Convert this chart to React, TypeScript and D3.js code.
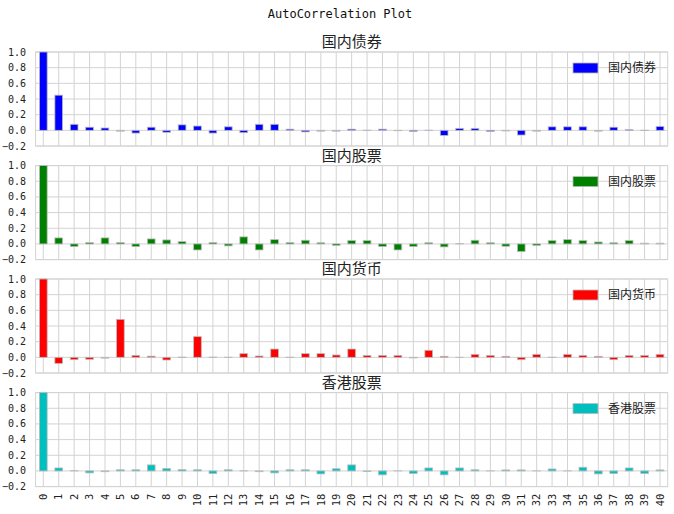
import React from "react";
import * as d3 from "d3";

const lags: number[] = Array.from({ length: 41 }, (_, i) => i);
const yTicks: number[] = [-0.2, 0, 0.2, 0.4, 0.6, 0.8, 1.0];
const seriesNames: string[] = ["国内债券", "国内股票", "国内货币", "香港股票"];
const seriesColors: string[] = ["#0000ff", "#008000", "#ff0000", "#00bfbf"];

const bondAcf: number[] = [
  1.0, 0.449, 0.077, 0.04, 0.03, -0.01, -0.035, 0.04, -0.025, 0.07,
  0.055, -0.035, 0.045, -0.03, 0.077, 0.077, 0.015, -0.02, -0.01, -0.01,
  0.015, 0.002, 0.015, -0.005, -0.015, 0.002, -0.065, 0.025, 0.025, -0.015,
  -0.008, -0.06, -0.01, 0.045, 0.045, 0.045, -0.01, 0.04, 0.008, 0.002, 0.05,
];
const stockAcf: number[] = [
  1.0, 0.077, -0.034, 0.017, 0.077, 0.017, -0.034, 0.064, 0.051, 0.03,
  -0.077, 0.017, -0.025, 0.09, -0.077, 0.055, 0.017, 0.047, 0.015, -0.02,
  0.043, 0.043, -0.034, -0.077, -0.034, 0.015, -0.038, 0.003, 0.047, 0.015,
  -0.03, -0.098, -0.02, 0.043, 0.055, 0.043, 0.025, 0.015, 0.043, 0.01, 0.01,
];
const moneyAcf: number[] = [
  1.0, -0.077, -0.03, -0.025, -0.01, 0.485, 0.025, 0.015, -0.034, 0.003,
  0.264, 0.003, 0.002, 0.047, 0.017, 0.106, 0.002, 0.047, 0.047, 0.03,
  0.106, 0.025, 0.025, 0.025, -0.008, 0.09, 0.013, 0.001, 0.038, 0.025,
  0.013, -0.03, 0.038, 0.002, 0.038, 0.025, 0.013, -0.03, 0.025, 0.025, 0.038,
];
const hkAcf: number[] = [
  1.0, 0.038, 0.003, -0.025, -0.01, 0.015, 0.015, 0.077, 0.03, 0.017,
  0.015, -0.034, 0.015, 0.002, -0.01, -0.025, 0.015, 0.015, -0.038, 0.028,
  0.077, -0.008, -0.05, 0.001, -0.034, 0.038, -0.05, 0.038, 0.015, 0.001,
  0.013, 0.013, 0.001, 0.025, 0.001, 0.047, -0.038, -0.034, 0.038, -0.034, 0.013,
];
const allSeries: number[][] = [bondAcf, stockAcf, moneyAcf, hkAcf];

const W = 674;
const H = 514;
const plotLeft = 35.6;
const plotRight = 667.7;
const panelTops = [52, 165.6, 279, 392.6];
const panelH = 94;
const grid = "#d3d3d3";
const cjk = "'Noto Sans CJK SC', 'Noto Sans', sans-serif";
const mono = "'DejaVu Sans Mono', monospace";

export default function App() {
  const x = d3.scaleLinear().domain([-0.5, 40.5]).range([plotLeft, plotRight]);
  const bw = x(0.25) - x(-0.25);
  return (
    <svg width={W} height={H} style={{ position: "absolute", left: 0, top: 0, background: "#fff" }}>
      <rect x={0} y={0} width={W} height={H} fill="#fff" />
      <text x={340} y={18} textAnchor="middle" fontFamily={mono} fontSize={12} fill="#111">
        AutoCorrelation Plot
      </text>
      {allSeries.map((vals, si) => {
        const top = panelTops[si];
        const y = d3.scaleLinear().domain([-0.2, 1.0]).range([top + panelH, top]);
        const color = seriesColors[si];
        return (
          <g key={si}>
            {yTicks.map((t) => (
              <line key={"h" + t} x1={plotLeft} x2={plotRight} y1={y(t)} y2={y(t)} stroke={grid} strokeWidth={1} />
            ))}
            {lags.map((l) => (
              <line key={"v" + l} x1={x(l)} x2={x(l)} y1={top} y2={top + panelH} stroke={grid} strokeWidth={1} />
            ))}
            <rect x={plotLeft} y={top} width={plotRight - plotLeft} height={panelH} fill="none" stroke={grid} strokeWidth={1} />
            {vals.map((v, i) => (
              <rect
                key={"b" + i}
                x={x(lags[i]) - bw / 2}
                y={Math.min(y(v), y(0))}
                width={bw}
                height={Math.abs(y(v) - y(0))}
                fill={color}
                stroke="#bbbbbb"
                strokeWidth={0.8}
              />
            ))}
            {yTicks.map((t) => (
              <text
                key={"yl" + t}
                x={26}
                y={y(t)}
                dy="0.35em"
                textAnchor="end"
                fontFamily={mono}
                fontSize={10}
                fill="#222"
              >
                {d3.format(".1f")(t).replace("-", "−")}
              </text>
            ))}
            <text x={(plotLeft + plotRight) / 2} y={top - 5} textAnchor="middle" fontFamily={cjk} fontSize={15} fill="#222">
              {seriesNames[si]}
            </text>
            <rect x={573} y={top + 11} width={25} height={10} fill={color} stroke="#bbbbbb" strokeWidth={0.8} />
            <text x={608} y={top + 16} dy="0.35em" fontFamily={cjk} fontSize={12} fill="#222">
              {seriesNames[si]}
            </text>
          </g>
        );
      })}
      {lags.map((l) => (
        <text
          key={"xl" + l}
          transform={`translate(${x(l)},${panelTops[3] + panelH + 7}) rotate(-90)`}
          dy="0.35em"
          textAnchor="end"
          fontFamily={mono}
          fontSize={10.5}
          fill="#222"
        >
          {String(l)}
        </text>
      ))}
    </svg>
  );
}
